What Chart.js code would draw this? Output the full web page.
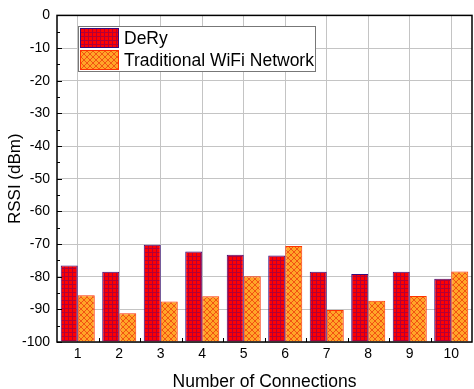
<!DOCTYPE html>
<html>
<head>
<meta charset="utf-8">
<script src="https://cdn.jsdelivr.net/npm/chart.js@4"></script>
<style>
  html,body{margin:0;padding:0;background:#fff;}
  #wrap{width:474px;height:389px;position:relative;}
</style>
</head>
<body>
<div id="wrap"><canvas id="chart" width="474" height="389"></canvas></div>
<script>
// data
const connections = ['1','2','3','4','5','6','7','8','9','10'];
const deryRssi = [-76.6, -78.5, -70.2, -72.3, -73.3, -73.5, -78.5, -79.2, -78.5, -80.6];
const wifiRssi = [-85.7, -91.2, -87.6, -86.0, -79.9, -70.6, -90.2, -87.4, -85.9, -78.4];
const yTicks = [0, -10, -20, -30, -40, -50, -60, -70, -80, -90, -100];

// fill patterns
function gridPattern(){
  const c = document.createElement('canvas'); c.width = 4; c.height = 4;
  const g = c.getContext('2d');
  g.fillStyle = '#ff0000'; g.fillRect(0,0,4,4);
  g.fillStyle = 'rgba(60,0,140,0.4)'; g.fillRect(0,0,1,4); g.fillRect(1,0,3,1);
  return g.createPattern(c,'repeat');
}
function crossPattern(){
  const c = document.createElement('canvas'); c.width = 6; c.height = 6;
  const g = c.getContext('2d');
  g.fillStyle = '#ffa528'; g.fillRect(0,0,6,6);
  g.strokeStyle = '#f04a10'; g.lineWidth = 0.9;
  g.beginPath();
  g.moveTo(0,0); g.lineTo(6,6);
  g.moveTo(6,0); g.lineTo(0,6);
  g.stroke();
  return g.createPattern(c,'repeat');
}
const deryFill = gridPattern();
const wifiFill = crossPattern();

// frame, inward ticks and legend box
const framePlugin = {
  id: 'frame',
  afterDraw(chart){
    const {ctx, chartArea:a, scales} = chart;
    ctx.save();
    ctx.strokeStyle = '#000'; ctx.lineWidth = 1.5;
    ctx.strokeRect(a.left, a.top, a.right - a.left, a.bottom - a.top);
    ctx.lineWidth = 1;
    ctx.beginPath();
    // y ticks (major every 10, minor every 5)
    for(let v = -100; v <= 0; v += 5){
      const y = Math.round(scales.y.getPixelForValue(v)) + 0.5;
      const len = v % 10 === 0 ? 5 : 3;
      ctx.moveTo(a.left, y); ctx.lineTo(a.left + len, y);
    }
    // x ticks at category boundaries
    for(let i = 0; i < connections.length - 1; i++){
      const x = Math.round((scales.x.getPixelForValue(i) + scales.x.getPixelForValue(i+1)) / 2) + 0.5;
      ctx.moveTo(x, a.bottom); ctx.lineTo(x, a.bottom - 4);
    }
    ctx.stroke();

    // legend
    const lx = 78, ly = 26, lw = 237, lh = 45;
    ctx.fillStyle = '#fff';
    ctx.fillRect(lx, ly, lw, lh);
    ctx.strokeStyle = '#777'; ctx.lineWidth = 1;
    ctx.strokeRect(lx + 0.5, ly + 0.5, lw, lh);
    ctx.font = '17.5px "Liberation Sans", Arial, sans-serif';
    ctx.textBaseline = 'middle';
    chart.data.datasets.forEach((ds, i) => {
      const sy = ly + 2 + i * 22;
      ctx.fillStyle = ds.backgroundColor;
      ctx.fillRect(lx + 2, sy, 39, 20);
      ctx.strokeStyle = ds.borderColor; ctx.lineWidth = 1;
      ctx.strokeRect(lx + 2.5, sy + 0.5, 38, 19);
      ctx.fillStyle = '#000';
      ctx.fillText(ds.label, lx + 46, sy + 11);
    });
    ctx.restore();
  }
};

new Chart(document.getElementById('chart').getContext('2d'), {
  type: 'bar',
  data: {
    labels: connections,
    datasets: [
      { label: 'DeRy', data: deryRssi, backgroundColor: deryFill, borderColor: '#3a0a7a', borderWidth: 1, base: -100 },
      { label: 'Traditional WiFi Network', data: wifiRssi, backgroundColor: wifiFill, borderColor: '#ff3300', borderWidth: 1, base: -100 }
    ]
  },
  options: {
    responsive: false,
    animation: false,
    layout: { padding: { left: 0, top: 9, right: 2, bottom: 0 } },
    datasets: { bar: { categoryPercentage: 0.82, barPercentage: 1.0 } },
    plugins: { legend: { display: false }, tooltip: { enabled: false } },
    scales: {
      x: {
        offset: true,
        grid: { offset: false, color: '#c4c4c4', drawTicks: false },
        border: { display: false },
        ticks: { color: '#000', padding: 4, font: { family: 'Liberation Sans', size: 14 } },
        title: { display: true, text: 'Number of Connections', color: '#000', padding: { top: 0, bottom: -4 },
                 font: { family: 'Liberation Sans', size: 17.5 } },
        afterFit(s){ s.height = 47; }
      },
      y: {
        min: -100, max: 0,
        afterBuildTicks(s){ s.ticks = yTicks.map(v => ({ value: v })); },
        grid: { color: '#c4c4c4', drawTicks: false },
        border: { display: false },
        ticks: { color: '#000', padding: 7, font: { family: 'Liberation Sans', size: 14 } },
        title: { display: true, text: 'RSSI (dBm)', color: '#000', padding: { top: 5, bottom: 2 },
                 font: { family: 'Liberation Sans', size: 17 } },
        afterFit(s){ s.width = 57; }
      }
    }
  },
  plugins: [framePlugin]
});
</script>
</body>
</html>
